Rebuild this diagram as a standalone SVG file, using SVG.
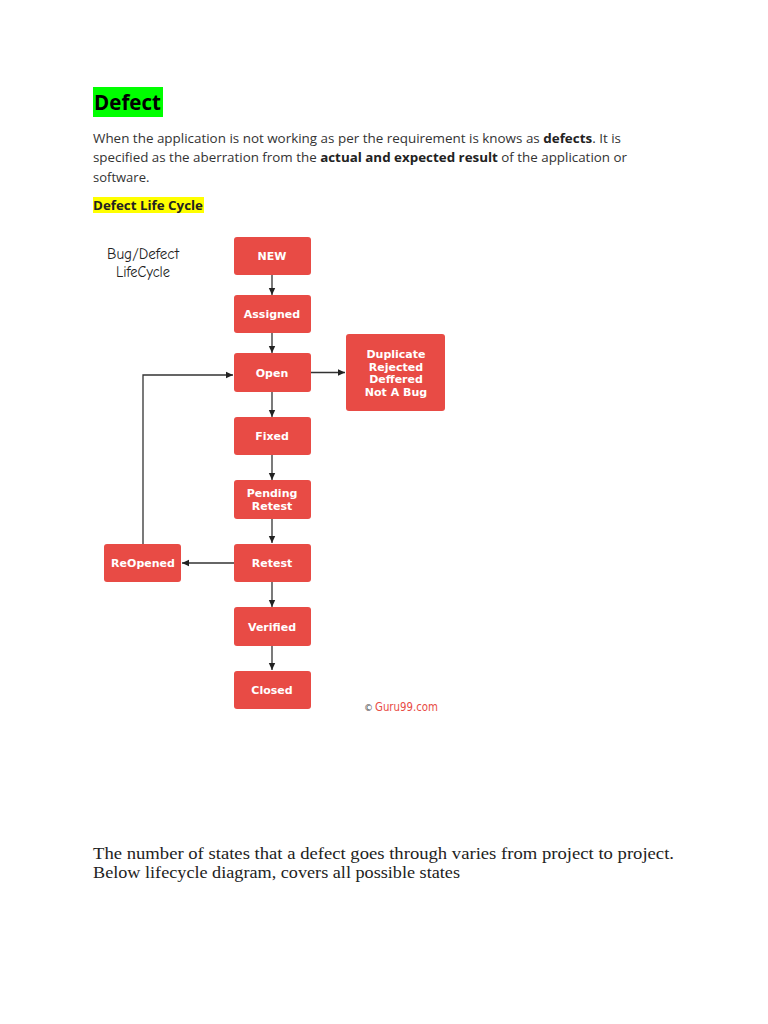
<svg xmlns="http://www.w3.org/2000/svg" width="768" height="1024" viewBox="0 0 768 1024">
<defs>
<marker id="ah" markerWidth="8" markerHeight="8" refX="7" refY="4" orient="auto" markerUnits="userSpaceOnUse">
<path d="M0,0.8 L7,4 L0,7.2 Z" fill="#222"/>
</marker>
<style>
.node rect{fill:#E84B45;}
.node text{fill:#fff;font-family:"DejaVu Sans",Verdana,sans-serif;font-weight:bold;font-size:11px;text-anchor:middle;}
.conn path{fill:none;stroke:#333;stroke-width:1.3;marker-end:url(#ah);}
.body{font-family:"Open Sans","Noto Sans",sans-serif;font-size:13px;fill:#333;}
.b{font-weight:bold;fill:#222;}
</style>
</defs>
<rect width="768" height="1024" fill="#fff"/>
<rect x="93" y="87" width="70" height="30" fill="#00FF00"/>
<text x="94" y="110" font-family="'Open Sans','Noto Sans',sans-serif" font-size="21" font-weight="bold" fill="#000" textLength="67" lengthAdjust="spacingAndGlyphs">Defect</text>
<text class="body" x="93" y="143" textLength="528" lengthAdjust="spacingAndGlyphs">When the application is not working as per the requirement is knows as <tspan class="b">defects</tspan>. It is</text>
<text class="body" x="93" y="162" textLength="534" lengthAdjust="spacingAndGlyphs">specified as the aberration from the <tspan class="b">actual and expected result</tspan> of the application or</text>
<text class="body" x="93" y="182">software.</text>
<rect x="93" y="197" width="111" height="16" fill="#FFFF00"/>
<text x="93" y="210" font-family="'Open Sans','Noto Sans',sans-serif" font-size="13" font-weight="bold" fill="#222" textLength="110" lengthAdjust="spacingAndGlyphs">Defect Life Cycle</text>
<g id="title" font-family="'Comic Neue','DejaVu Sans Condensed',sans-serif" font-size="15" fill="#222" text-anchor="middle">
<text x="143" y="259" textLength="72" lengthAdjust="spacingAndGlyphs">Bug/Defect</text>
<text x="143" y="277" textLength="54" lengthAdjust="spacingAndGlyphs">LifeCycle</text>
</g>
<g class="conn">
<path d="M272,275 V295"/>
<path d="M272,333 V353"/>
<path d="M310,372.5 H345"/>
<path d="M272,392 V417"/>
<path d="M272,455 V480"/>
<path d="M272,519 V543"/>
<path d="M272,582 V607"/>
<path d="M272,646 V670"/>
<path d="M234,563 H182"/>
<path d="M143,544 V375 H233"/>
</g>
<g id="n-new" class="node"><rect x="234" y="237" width="77" height="38" rx="3"/><text x="272" y="260">NEW</text></g>
<g id="n-assigned" class="node"><rect x="234" y="295" width="77" height="38" rx="3"/><text x="272" y="318">Assigned</text></g>
<g id="n-open" class="node"><rect x="234" y="353" width="77" height="39" rx="3"/><text x="272" y="377">Open</text></g>
<g id="n-dup" class="node"><rect x="346" y="334" width="99" height="77" rx="3"/><text x="396" y="358">Duplicate</text><text x="396" y="371">Rejected</text><text x="396" y="383">Deffered</text><text x="396" y="396">Not A Bug</text></g>
<g id="n-fixed" class="node"><rect x="234" y="417" width="77" height="38" rx="3"/><text x="272" y="440">Fixed</text></g>
<g id="n-pending" class="node"><rect x="234" y="480" width="77" height="39" rx="3"/><text x="272" y="497">Pending</text><text x="272" y="510">Retest</text></g>
<g id="n-retest" class="node"><rect x="234" y="544" width="77" height="38" rx="3"/><text x="272" y="567">Retest</text></g>
<g id="n-reopened" class="node"><rect x="104" y="544" width="77" height="38" rx="3"/><text x="143" y="567">ReOpened</text></g>
<g id="n-verified" class="node"><rect x="234" y="607" width="77" height="39" rx="3"/><text x="272" y="631">Verified</text></g>
<g id="n-closed" class="node"><rect x="234" y="671" width="77" height="38" rx="3"/><text x="272" y="694">Closed</text></g>
<text x="364" y="711" font-family="'DejaVu Sans',sans-serif" font-size="9" fill="#444">©</text>
<text x="375" y="711" font-family="'DejaVu Sans Condensed',sans-serif" font-size="12" fill="#E84B45" textLength="63" lengthAdjust="spacingAndGlyphs">Guru99.com</text>
<g font-family="'Liberation Serif','DejaVu Serif',serif" font-size="16" fill="#222">
<text x="93" y="859" textLength="581" lengthAdjust="spacingAndGlyphs">The number of states that a defect goes through varies from project to project.</text>
<text x="93" y="878" textLength="367" lengthAdjust="spacingAndGlyphs">Below lifecycle diagram, covers all possible states</text>
</g>
</svg>
